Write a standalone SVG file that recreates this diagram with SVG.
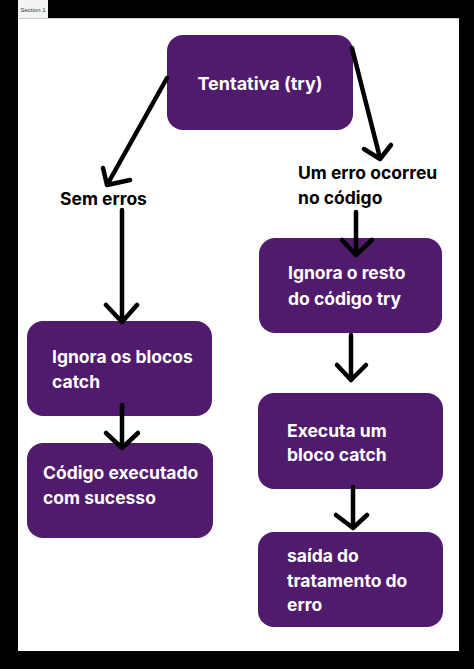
<svg xmlns="http://www.w3.org/2000/svg" width="474" height="669" viewBox="0 0 474 669">
<style>
.node rect{fill:#501a6d}
.node text{fill:#ffffff;font-family:Inter,"Open Sans","Liberation Sans",sans-serif;font-weight:700;font-size:17.5px}
.lbl{fill:#000;font-family:Inter,"Open Sans","Liberation Sans",sans-serif;font-weight:700;font-size:17.5px}
#connectors path{fill:none;stroke:#000;stroke-width:4.5;stroke-linecap:round;stroke-linejoin:round}
</style>
<rect x="0" y="0" width="474" height="669" fill="#000"/>
<rect x="18" y="18" width="441" height="633" fill="#fff"/>
<line x1="18" y1="18.5" x2="459" y2="18.5" stroke="#cfcfcf" stroke-width="1"/>
<rect x="18" y="0" width="30" height="18" fill="#f3f3f3"/>
<text x="33" y="12" text-anchor="middle" font-family="'Liberation Sans',sans-serif" font-size="6" fill="#333">Section 1</text>

<g id="n-try" class="node"><rect x="167" y="35" width="186" height="95" rx="16"/><text x="260" y="90" text-anchor="middle" style="font-size:18px">Tentativa (try)</text></g>
<g id="n-ignora-catch" class="node"><rect x="27" y="321" width="185" height="95" rx="16"/><text x="52" y="363">Ignora os blocos</text><text x="52" y="388">catch</text></g>
<g id="n-sucesso" class="node"><rect x="27" y="443" width="186" height="95" rx="16"/><text x="43" y="479">Código executado</text><text x="43" y="504">com sucesso</text></g>
<g id="n-ignora-resto" class="node"><rect x="259" y="238" width="183" height="95" rx="16"/><text x="288" y="279">Ignora o resto</text><text x="288" y="305">do código try</text></g>
<g id="n-executa" class="node"><rect x="258" y="393" width="185" height="96" rx="16"/><text x="287" y="437">Executa um</text><text x="287" y="461">bloco catch</text></g>
<g id="n-saida" class="node"><rect x="258" y="532" width="185" height="95" rx="16"/><text x="287" y="562">saída do</text><text x="287" y="587">tratamento do</text><text x="287" y="611">erro</text></g>

<g id="labels">
<text class="lbl" x="60" y="205">Sem erros</text>
<text class="lbl" x="298" y="179">Um erro ocorreu</text>
<text class="lbl" x="298" y="204">no código</text>
</g>

<g id="connectors">
<path d="M167 78 L107 185 M103 168 L107 185 L130 180"/>
<path d="M352 48 L380 158 M364 149 L380 159 L391 145"/>
<path d="M122 210 L122 322 M106 305 L122 322 L137 305"/>
<path d="M356 212 L356 255 M342 240 L356 255 L372 240"/>
<path d="M122 405 L122 448 M106 433 L122 448 L138 433"/>
<path d="M351 335 L351 380 M337 365 L351 380 L366 365"/>
<path d="M353 487 L353 528 M336 515 L353 528 L367 515"/>
</g>
</svg>
